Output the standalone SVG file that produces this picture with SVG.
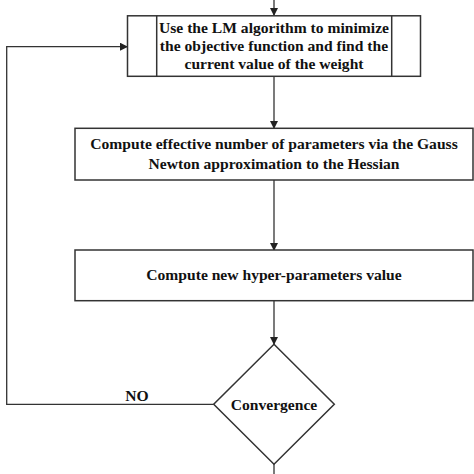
<svg xmlns="http://www.w3.org/2000/svg" width="474" height="474" viewBox="0 0 474 474">
<style>
.box{fill:#fff;stroke:#333;stroke-width:1.5}
.ln{fill:none;stroke:#333;stroke-width:1.3}
text{font-family:"Liberation Serif","Times New Roman",serif;font-weight:bold;font-size:15.6px;fill:#111;text-anchor:middle}
</style>
<defs>
<marker id="ah" markerWidth="8" markerHeight="8" refX="7" refY="4" orient="auto" markerUnits="userSpaceOnUse">
<path d="M0,0 L8,4 L0,8 Z" fill="#222"/>
</marker>
</defs>
<rect width="474" height="474" fill="#fff"/>
<g id="connectors">
<line class="ln" x1="274" y1="0" x2="274" y2="15" marker-end="url(#ah)"/>
<line class="ln" x1="274" y1="76.5" x2="274" y2="128" marker-end="url(#ah)"/>
<line class="ln" x1="274" y1="180" x2="274" y2="250" marker-end="url(#ah)"/>
<line class="ln" x1="274" y1="301" x2="274" y2="344" marker-end="url(#ah)"/>
<line class="ln" x1="274" y1="464" x2="274" y2="474"/>
<polyline class="ln" points="213.7,404.3 6.7,404.3 6.7,46.7 127,46.7" marker-end="url(#ah)"/>
<text x="137" y="401">NO</text>
</g>
<g id="node1">
<rect class="box" x="127.5" y="15.8" width="293" height="60.5"/>
<line class="box" x1="156.7" y1="15.8" x2="156.7" y2="76.3"/>
<line class="box" x1="391.7" y1="15.8" x2="391.7" y2="76.3"/>
<text x="274" y="33">Use the LM algorithm to minimize</text>
<text x="274" y="51">the objective function and find the</text>
<text x="274" y="69">current value of the weight</text>
</g>
<g id="node2">
<rect class="box" x="75" y="128.3" width="398" height="51.7"/>
<text x="274" y="149">Compute effective number of parameters via the Gauss</text>
<text x="274" y="168.5">Newton approximation to the Hessian</text>
</g>
<g id="node3">
<rect class="box" x="75" y="250" width="398" height="50.7"/>
<text x="274" y="280">Compute new hyper-parameters value</text>
</g>
<g id="node4">
<polygon class="box" points="274,344.3 334.3,404.3 274,464.3 213.7,404.3"/>
<text x="274" y="409.5">Convergence</text>
</g>
</svg>
